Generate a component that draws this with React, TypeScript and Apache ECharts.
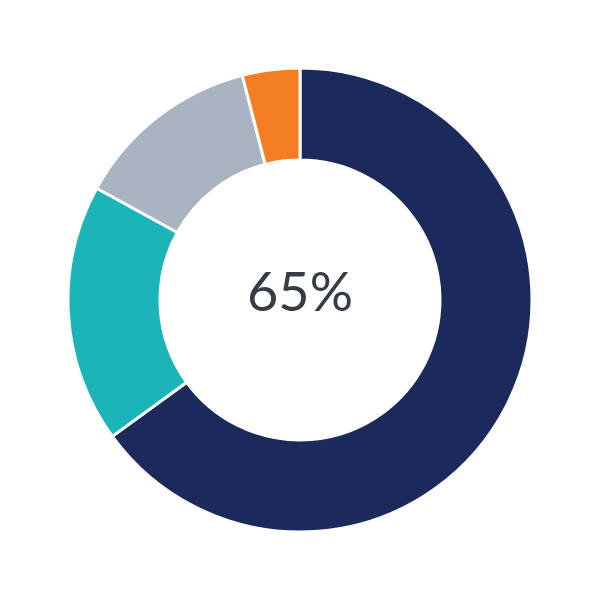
import { useEffect, useRef } from "react";
import * as echarts from "echarts";

const labels = ["A", "B", "C", "D"];
const values = [65, 18, 13, 4];
const colors = ["#1b2a5b", "#1bb4b8", "#a9b3c1", "#f37d22"];
const centerText = "65%";

export default function App() {
  const chartRef = useRef<HTMLDivElement>(null);

  useEffect(() => {
    document.body.style.margin = "0";
    const myChart = echarts.init(chartRef.current!, null, { renderer: "svg" });

    const option = {
      animation: false,
      graphic: [
        {
          type: "text",
          left: "center",
          top: 263,
          style: {
            text: centerText,
            font: "normal 54px Lato",
            fill: "#353c44",
          },
        },
      ],
      series: [
        {
          type: "pie",
          center: [300, 300],
          radius: [140, 232],
          startAngle: 90,
          clockwise: true,
          label: { show: false },
          labelLine: { show: false },
          emphasis: { disabled: true },
          itemStyle: { borderColor: "#fff", borderWidth: 3 },
          data: values.map((v, i) => ({
            value: v,
            name: labels[i],
            itemStyle: { color: colors[i] },
          })),
        },
      ],
    };

    myChart.setOption(option);

    return () => {
      myChart.dispose();
    };
  }, []);

  return <div ref={chartRef} style={{ width: "600px", height: "600px" }} />;
}
